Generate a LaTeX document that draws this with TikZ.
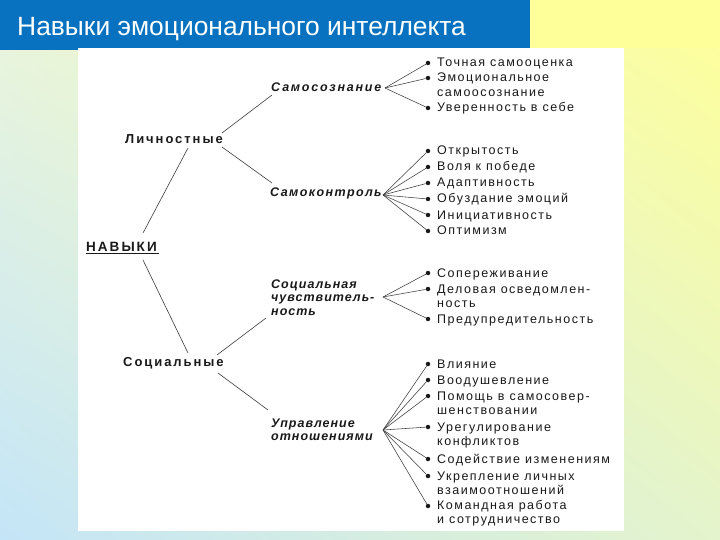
\documentclass[tikz,border=0pt]{standalone}
\usepackage{fontspec}
\usetikzlibrary{shadings}
\setmainfont{Liberation Sans}
\newfontfamily\leaffont[LetterSpace=12]{Liberation Sans}
\newfontfamily\labfont[LetterSpace=14]{Liberation Sans}
\newfontfamily\labfontn[LetterSpace=8]{Liberation Sans}
\newfontfamily\topfont[LetterSpace=15]{Liberation Sans}
\definecolor{bgUL}{RGB}{236,246,218}
\definecolor{bgUR}{RGB}{255,255,153}
\definecolor{bgLL}{RGB}{196,229,248}
\definecolor{bgLR}{RGB}{228,244,204}
\definecolor{titleblue}{RGB}{8,114,192}
\definecolor{ink}{RGB}{25,25,25}
\tikzset{
  leaf/.style={anchor=base west, inner sep=0pt, align=left, text=ink,
    font=\leaffont\fontsize{12.5}{14.5}\selectfont},
  lab/.style={anchor=west, inner sep=0pt, align=left, text=ink,
    font=\labfont\bfseries\itshape\fontsize{12.5}{14}\selectfont},
  labn/.style={anchor=west, inner sep=0pt, align=left, text=ink,
    font=\labfontn\bfseries\itshape\fontsize{12.5}{13.5}\selectfont},
  top/.style={anchor=west, inner sep=0pt, text=ink,
    font=\topfont\bfseries\fontsize{13}{15}\selectfont},
  bul/.style={circle, fill=ink, inner sep=0pt, minimum size=4.5pt},
  conn/.style={draw=ink!85, line width=0.6pt},
  fan/.style={draw=ink!85, line width=0.55pt},
}
\begin{document}
\begin{tikzpicture}[x=1pt,y=-1pt]
\useasboundingbox (0,0) rectangle (720,540);
\shade[upper left=bgUL, upper right=bgUR, lower left=bgLL, lower right=bgLR] (0,0) rectangle (720,540);
\fill[bgUR] (530,0) rectangle (720,48);
\fill[titleblue] (0,0) rectangle (530,50);
\node[anchor=base west, inner sep=0pt, text=white, font=\fontsize{26.4}{30}\selectfont] (title) at (17,36) {Навыки эмоционального интеллекта};
\fill[white] (78,48) rectangle (624,531);

% top levels
\node[top, font=\topfont\bfseries\fontsize{13.5}{15}\selectfont] (nav) at (86,246.5) {НАВЫКИ};
\draw[ink, line width=0.7pt] ([yshift=-2pt]nav.south west) -- ([yshift=-2pt,xshift=2pt]nav.south east);
\node[top] (lich) at (125,139) {Личностные};
\node[top] (soc) at (123,363) {Социальные};

% second level
\node[lab] (sama) at (271,87) {Самосознание};
\node[labn, font=\labfontn\bfseries\itshape\fontsize{12.5}{14}\addfontfeature{LetterSpace=11}\selectfont] (samk) at (270,193) {Самоконтроль};
\node[labn] (chuv) at (271,297.5) {Социальная\\чувствитель-\\ность};
\node[labn, font=\labfontn\bfseries\itshape\fontsize{12.5}{12.5}\selectfont] (upr) at (271,430) {Управление\\отношениями};

% connector endpoints
\coordinate (navU) at (143,233);
\coordinate (lichD) at (188,148);
\coordinate (navD) at (143,260);
\coordinate (socU) at (188,353);
\coordinate (lichR1) at (222,133);
\coordinate (samaL) at (272,95);
\coordinate (lichR2) at (222,147);
\coordinate (samkL) at (272,183);
\coordinate (socR1) at (217,355);
\coordinate (chuvL) at (266,318);
\coordinate (socR2) at (218,373);
\coordinate (uprL) at (268,410);
\draw[conn] (navU) -- (lichD);
\draw[conn] (navD) -- (socU);
\draw[conn] (lichR1) -- (samaL);
\draw[conn] (lichR2) -- (samkL);
\draw[conn] (socR1) -- (chuvL);
\draw[conn] (socR2) -- (uprL);

% fan origins
\coordinate (oA) at (385,88);
\coordinate (oB) at (383,195);
\coordinate (oC) at (383,297);
\coordinate (oD) at (383,430);

% group A
\node[bul] (ba1) at (428,63) {};
\node[leaf] (a1) at (437,67) {Точная самооценка};
\node[bul] (ba2) at (428,78) {};
\node[leaf] (a2) at (437,96.5) {Эмоциональное\\самоосознание};
\node[bul] (ba3) at (428,108) {};
\node[leaf] (a3) at (437,112) {Уверенность в себе};
\foreach \b in {ba1,ba2,ba3} \draw[fan] (oA) -- (\b);

% group B
\node[bul] (bb1) at (428,151) {};
\node[leaf] (b1) at (437,155) {Открытость};
\node[bul] (bb2) at (428,167) {};
\node[leaf] (b2) at (437,171) {Воля к победе};
\node[bul] (bb3) at (428,183) {};
\node[leaf] (b3) at (437,187) {Адаптивность};
\node[bul] (bb4) at (428,199) {};
\node[leaf] (b4) at (437,203) {Обуздание эмоций};
\node[bul] (bb5) at (428,215) {};
\node[leaf] (b5) at (437,219) {Инициативность};
\node[bul] (bb6) at (428,231) {};
\node[leaf] (b6) at (437,235) {Оптимизм};
\foreach \b in {bb1,bb2,bb3,bb4,bb5,bb6} \draw[fan] (oB) -- (\b);

% group C
\node[bul] (bc1) at (428,273) {};
\node[leaf] (c1) at (437,277) {Сопереживание};
\node[bul] (bc2) at (428,289) {};
\node[leaf] (c2) at (437,307.5) {Деловая осведомлен-\\ность};
\node[bul] (bc3) at (428,319) {};
\node[leaf] (c3) at (437,323) {Предупредительность};
\foreach \b in {bc1,bc2,bc3} \draw[fan] (oC) -- (\b);

% group D
\node[bul] (bd1) at (428,364) {};
\node[leaf] (d1) at (437,368) {Влияние};
\node[bul] (bd2) at (428,380) {};
\node[leaf] (d2) at (437,384) {Воодушевление};
\node[bul] (bd3) at (428,396) {};
\node[leaf] (d3) at (437,414.5) {Помощь в самосовер-\\шенствовании};
\node[bul] (bd4) at (428,427) {};
\node[leaf] (d4) at (437,445.5) {Урегулирование\\конфликтов};
\node[bul] (bd5) at (428,459) {};
\node[leaf] (d5) at (437,463) {Содействие изменениям};
\node[bul] (bd6) at (428,476) {};
\node[leaf] (d6) at (437,494.5) {Укрепление личных\\взаимоотношений};
\node[bul] (bd7) at (428,506) {};
\node[leaf] (d7) at (437,523.5) {Командная работа\\и сотрудничество};
\foreach \b in {bd1,bd2,bd3,bd4,bd5,bd6,bd7} \draw[fan] (oD) -- (\b);
\end{tikzpicture}
\end{document}
